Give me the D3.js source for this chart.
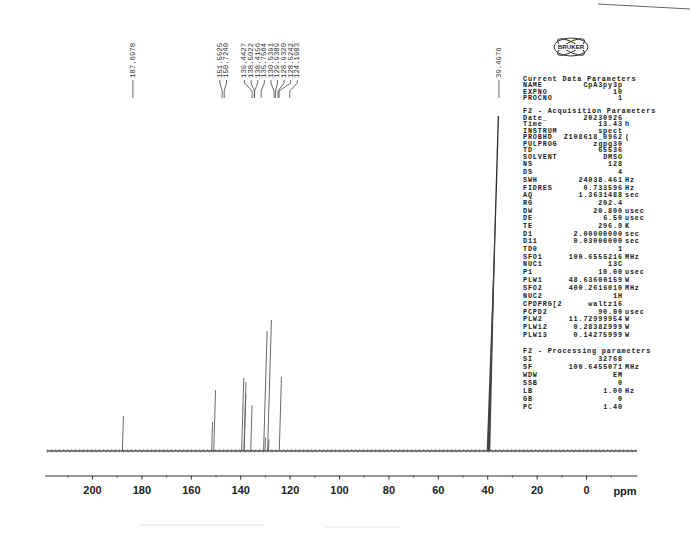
<!DOCTYPE html>
<html><head><meta charset="utf-8">
<script src="https://cdn.jsdelivr.net/npm/d3@7"></script>
<style>body{margin:0;background:#fff}</style></head>
<body><svg id="c" width="700" height="536"></svg>
<script>
// ---------- data ----------
const peakShifts = [187.6978, 151.5525, 150.7240, 139.4427, 138.5022, 138.4156, 135.7564, 130.5391, 129.9389, 128.9320, 128.5242, 124.1983, 39.4976];
const peakLabels = ["187.6978","151.5525","150.7240","139.4427","138.5022","138.4156","135.7564","130.5391","129.9389","128.9320","128.5242","124.1983","39.4976"];
const peakIntensities = [10.4, 8.7, 18.2, 21.8, 20.6, 17.0, 13.7, 35.8, 4.0, 39.1, 3.5, 22.1, 100];
const majorTicks = [200, 180, 160, 140, 120, 100, 80, 60, 40, 20, 0];
const minorTicks = [210, 190, 170, 150, 130, 110, 90, 70, 50, 30, 10, -10];
const axisUnit = "ppm";

const currentTitle = "Current Data Parameters";
const currentNames = ["NAME","EXPNO","PROCNO"];
const currentValues = ["CpA3py3p","10","1"];
const currentUnits = ["","",""];

const acqTitle = "F2 - Acquisition Parameters";
const acqNames = ["Date_","Time","INSTRUM","PROBHD","PULPROG","TD","SOLVENT","NS","DS","SWH","FIDRES","AQ","RG","DW","DE","TE","D1","D11","TD0","SFO1","NUC1","P1","PLW1","SFO2","NUC2","CPDPRG[2","PCPD2","PLW2","PLW12","PLW13"];
const acqValues = ["20230926","13.43","spect","Z108618_0962","zgpg30","65536","DMSO","128","4","24038.461","0.733596","1.3631488","202.4","20.800","6.50","296.9","2.00000000","0.03000000","1","100.6555216","13C","10.00","48.63600159","400.2616010","1H","waltz16","90.00","11.72999954","0.28382999","0.14275999"];
const acqUnits = ["","h","","(","","","","","","Hz","Hz","sec","","usec","usec","K","sec","sec","","MHz","","usec","W","MHz","","","usec","W","W","W"];

const procTitle = "F2 - Processing parameters";
const procNames = ["SI","SF","WDW","SSB","LB","GB","PC"];
const procValues = ["32768","100.6455071","EM","0","1.00","0","1.40"];
const procUnits = ["","MHz","","","Hz","",""];

// ---------- chart ----------
const svg = d3.select("#c");
svg.append("rect").attr("width",700).attr("height",536).attr("fill","#fff");

const y0 = 451;
const x = d3.scaleLinear().domain([219.2, -20.6]).range([44.6, 636.9]);
const y = d3.scaleLinear().domain([0, 100]).range([y0, 116]);

// axis
const axisY = 475.5;
const gAxis = svg.append("g").attr("transform", `translate(0,${axisY})`)
  .call(d3.axisBottom(x).tickValues(majorTicks).tickSize(4).tickSizeOuter(0).tickPadding(7).tickFormat(d3.format("d")));
gAxis.select(".domain").attr("stroke","#333").attr("stroke-width",1.1);
gAxis.selectAll(".tick line").attr("stroke","#333");
gAxis.selectAll(".tick text").attr("fill","#222").attr("font-family","Liberation Sans, Arial, sans-serif")
  .attr("font-weight","bold").attr("font-size","11px");
const gMinor = svg.append("g").attr("transform", `translate(0,${axisY})`)
  .call(d3.axisBottom(x).tickValues(minorTicks).tickSize(2).tickSizeOuter(0).tickFormat(""));
gMinor.select(".domain").remove();
gMinor.selectAll(".tick line").attr("stroke","#444");
svg.append("text").attr("x", 625).attr("y", axisY + 19.5).attr("text-anchor","middle")
  .attr("font-family","Liberation Sans, Arial, sans-serif").attr("font-weight","bold").attr("font-size","11px")
  .attr("fill","#222").text(axisUnit);

// baseline (noisy look)
svg.append("line").attr("x1", x(218.3)).attr("x2", x(-20.6)).attr("y1", y0).attr("y2", y0)
  .attr("stroke","#555").attr("stroke-width",1.3);
svg.append("line").attr("x1", x(218.3)).attr("x2", x(-20.6)).attr("y1", y0-0.9).attr("y2", y0-0.9)
  .attr("stroke","#333").attr("stroke-width",0.8).attr("stroke-dasharray","1.5,2.5");
svg.append("line").attr("x1", x(218.3)).attr("x2", x(-20.6)).attr("y1", y0+0.9).attr("y2", y0+0.9)
  .attr("stroke","#444").attr("stroke-width",0.7).attr("stroke-dasharray","1,3.5");

// peaks (the scanned page is slightly skewed)
const skewDeg = 1.7, skew = Math.tan(skewDeg*Math.PI/180);
const gPeaks = svg.append("g").attr("transform", `translate(0,${y0}) skewX(${-skewDeg}) translate(0,${-y0})`);
const peaks = peakShifts.map((s,i) => ({s, v: peakIntensities[i], lab: peakLabels[i]}));
gPeaks.selectAll("line.pk").data(peaks).join("line").attr("class","pk")
  .attr("x1", d => x(d.s)).attr("x2", d => x(d.s))
  .attr("y1", y0).attr("y2", d => y(d.v))
  .attr("stroke", d => d.v > 50 ? "#2a2a2a" : "#5a5a5a")
  .attr("stroke-width", d => d.v > 50 ? 1.3 : 0.9);
const solvent = peaks[peaks.length-1];
gPeaks.append("path")
  .attr("d", `M${x(solvent.s)-1.8},${y0} L${x(solvent.s)},${y(solvent.v*0.8)} L${x(solvent.s)+1.8},${y0}`)
  .attr("fill","#444").attr("stroke","none");

// peak labels
const connY = 98, gap = 6.6;
peaks.forEach(p => { p.tx = x(p.s) + skew*(y0 - connY); });
const sorted = peaks.slice().sort((a,b) => a.tx - b.tx);
let cl = sorted.map(p => [p]);
const place = c => { const mid = (c[0].tx + c[c.length-1].tx)/2; c.forEach((p,i) => p.lx = mid + (i-(c.length-1)/2)*gap); };
let merged = true;
while (merged) {
  merged = false; cl.forEach(place);
  for (let i = 0; i < cl.length-1; i++) {
    const a = cl[i], b = cl[i+1];
    if (b[0].lx - a[a.length-1].lx < gap) { cl.splice(i, 2, a.concat(b)); merged = true; break; }
  }
}
cl.forEach(place);
const gLab = svg.append("g");
gLab.selectAll("text").data(peaks).join("text")
  .attr("transform", d => `translate(${d.lx},78) rotate(-90)`)
  .attr("dominant-baseline","middle")
  .attr("font-family","Liberation Mono, DejaVu Sans Mono, monospace")
  .attr("font-size","7.3px").attr("fill","#333").text(d => d.lab);
gLab.selectAll("path").data(peaks).join("path")
  .attr("d", d => Math.abs(d.lx - d.tx) < 0.5 ? `M${d.lx},80 V${connY}` : `M${d.lx},80 V83 L${d.tx},91 V${connY}`)
  .attr("fill","none").attr("stroke","#444").attr("stroke-width",0.8);

// parameters panel
const rows = [];
rows.push({name: currentTitle});
currentNames.forEach((n,i) => rows.push({name:n, value:currentValues[i], unit:currentUnits[i]}));
rows.push({name:""});
rows.push({name: acqTitle});
acqNames.forEach((n,i) => rows.push({name:n, value:acqValues[i], unit:acqUnits[i]}));
rows.push({name:""});
rows.push({name: procTitle});
procNames.forEach((n,i) => rows.push({name:n, value:procValues[i], unit:procUnits[i]}));

// photographed page: line spacing grows slightly down the page
const rowY = d3.scaleLinear().domain([0, 12, 28, 44]).range([79, 157, 280, 407]);
const pX = 523, vX = 622, uX = 625, ls = 0.85;
const gP = svg.append("g").attr("font-family","Liberation Mono, Courier New, monospace")
  .attr("font-size","6.8px").attr("letter-spacing", ls + "px").attr("font-weight","bold").attr("fill","#1a1a1a");
rows.forEach((r,i) => {
  const yy = rowY(i);
  gP.append("text").attr("x",pX).attr("y",yy).attr("dominant-baseline","middle").text(r.name);
  if (r.value !== undefined) gP.append("text").attr("x",vX + ls).attr("y",yy).attr("dominant-baseline","middle").attr("text-anchor","end").text(r.value);
  if (r.unit) gP.append("text").attr("x",uX).attr("y",yy).attr("dominant-baseline","middle").text(r.unit);
});

// Bruker logo
const logo = svg.append("g").attr("transform","translate(571,47)");
logo.append("ellipse").attr("rx",17).attr("ry",9).attr("fill","none").attr("stroke","#333").attr("stroke-width",1);
logo.append("ellipse").attr("rx",15).attr("ry",5).attr("transform","rotate(28)").attr("fill","none").attr("stroke","#333").attr("stroke-width",1);
logo.append("ellipse").attr("rx",15).attr("ry",5).attr("transform","rotate(-28)").attr("fill","none").attr("stroke","#333").attr("stroke-width",1);
logo.append("rect").attr("x",-14).attr("y",-3).attr("width",28).attr("height",6).attr("fill","#fff");
logo.append("text").attr("text-anchor","middle").attr("dominant-baseline","middle").attr("y",0.3)
  .attr("font-family","Liberation Sans, Arial, sans-serif").attr("font-weight","bold").attr("font-size","6.2px")
  .attr("fill","#222").text("BRUKER");

// scan artefacts
svg.append("line").attr("x1",598).attr("y1",4).attr("x2",690).attr("y2",9).attr("stroke","#666").attr("stroke-width",1);
svg.append("line").attr("x1",140).attr("y1",525).attr("x2",265).attr("y2",525).attr("stroke","#e2e2e2").attr("stroke-width",1);
svg.append("line").attr("x1",325).attr("y1",527).attr("x2",400).attr("y2",527).attr("stroke","#e6e6e6").attr("stroke-width",1);
</script></body></html>
